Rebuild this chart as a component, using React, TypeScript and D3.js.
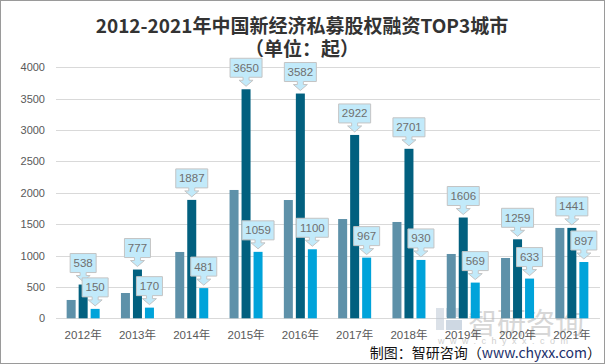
import React from "react";
import * as d3 from "d3";

const categories = ["2012年", "2013年", "2014年", "2015年", "2016年", "2017年", "2018年", "2019年", "2020年", "2021年"];
const seriesA = [292, 403, 1057, 2045, 1885, 1582, 1535, 1025, 961, 1440];
const seriesB = [538, 777, 1887, 3650, 3582, 2922, 2701, 1606, 1259, 1441];
const seriesC = [150, 170, 481, 1059, 1100, 967, 930, 569, 633, 897];
const yTicks = [0, 500, 1000, 1500, 2000, 2500, 3000, 3500, 4000];
const seriesColors = ["#5e91a9", "#02607f", "#00a3da"];

const W = 605;
const H = 364;

function Callout({ cx, tipY, value }: { cx: number; tipY: number; value: number }) {
  const txt = String(value);
  const w = txt.length >= 4 ? 32 : 26;
  const h = 19;
  const stemW = 6;
  const stemH = 3;
  const headW = 14;
  const headH = 6;
  const bottom = tipY - stemH - headH;
  const top = bottom - h;
  const l = cx - w / 2;
  const r = cx + w / 2;
  const p = [
    [l, top], [r, top], [r, bottom],
    [cx + stemW / 2, bottom], [cx + stemW / 2, bottom + stemH], [cx + headW / 2, bottom + stemH],
    [cx, tipY],
    [cx - headW / 2, bottom + stemH], [cx - stemW / 2, bottom + stemH], [cx - stemW / 2, bottom],
    [l, bottom],
  ];
  const d = "M" + p.map((q) => q.join(",")).join("L") + "Z";
  return (
    <g>
      <path d={d} fill="#c2eafa" stroke="#c4c4c4" strokeWidth={1} />
      <text x={cx} y={top + h / 2 + 4} textAnchor="middle" fontSize={11.5} fill="#6f6f6f"
        fontFamily="'Liberation Sans', Arial, sans-serif">{txt}</text>
    </g>
  );
}

export default function App() {
  const plotL = 56;
  const plotR = 599;
  const y0 = 318.3;
  const y1 = 67.3;
  const x = d3.scaleBand<string>().domain(categories).range([plotL, plotR]).padding(0);
  const y = d3.scaleLinear().domain([0, 4000]).range([y0, y1]);
  const sub = d3.scaleBand<number>().domain([0, 1, 2]).range([-16.5, 16.5]).paddingInner(0.25).paddingOuter(0);
  const all = [seriesA, seriesB, seriesC];
  const font = "'Liberation Sans', 'Noto Sans CJK SC', Arial, sans-serif";

  return (
    <svg width={W} height={H} style={{ position: "fixed", left: 0, top: 0 }} xmlns="http://www.w3.org/2000/svg">
      <rect x={0.5} y={0.5} width={W - 1} height={H - 1} fill="#ffffff" stroke="#9a9a9a" />
      <text x={302} y={33} textAnchor="middle" fontSize={19} fontWeight="bold" fill="#333"
        fontFamily="'Noto Sans CJK SC', sans-serif">2012-2021年中国新经济私募股权融资TOP3城市</text>
      <text x={302} y={56} textAnchor="middle" fontSize={19} fontWeight="bold" fill="#333"
        fontFamily="'Noto Sans CJK SC', sans-serif">（单位：起）</text>

      {yTicks.map((t) => (
        <g key={t}>
          <line x1={plotL} x2={plotR + 1} y1={Math.round(y(t)) + 0.5} y2={Math.round(y(t)) + 0.5}
            stroke="#d9d9d9" strokeWidth={1} />
          <text x={45} y={y(t) + 4} textAnchor="end" fontSize={11} fill="#595959" fontFamily={font}>{t}</text>
        </g>
      ))}

      {/* watermark */}
      <g opacity={0.5}>
        <rect x={436} y={308} width={8} height={22} fill="#b9c4d2" />
        <rect x={446} y={308} width={16} height={9} fill="#b9c4d2" />
        <rect x={446} y={320} width={16} height={10} fill="#9fb3c9" />
        <text x={468} y={334} fontSize={29} fill="#b0b0b0" fontFamily="'Noto Sans CJK SC', sans-serif">智研咨询</text>
        <text x={438} y={344} fontSize={9} fill="#a0a0a0" letterSpacing={5.5} fontFamily={font}>www.chyxx.com</text>
      </g>

      {all.map((s, si) =>
        s.map((v, i) => (
          <rect key={si + "-" + i}
            x={(x(categories[i]) as number) + x.bandwidth() / 2 + (sub(si) as number)}
            y={y(v)} width={sub.bandwidth()} height={y0 - y(v)} fill={seriesColors[si]} />
        ))
      )}

      {categories.map((c) => (
        <text key={c} x={(x(c) as number) + x.bandwidth() / 2} y={339} textAnchor="middle" fontSize={11.5}
          fill="#595959" fontFamily={font}>{c}</text>
      ))}

      {[1, 2].map((si) =>
        all[si].map((v, i) => (
          <Callout key={"c" + si + "-" + i}
            cx={(x(categories[i]) as number) + x.bandwidth() / 2 + (sub(si) as number) + sub.bandwidth() / 2}
            tipY={y(v) - 3} value={v} />
        ))
      )}

      <text x={601} y={358} textAnchor="end" fontSize={14} fill="#111" fontFamily="'Noto Sans CJK SC', sans-serif">
        制图：智研咨询（<tspan fill="#1b2f6b">www.chyxx.com</tspan>）
      </text>
    </svg>
  );
}
